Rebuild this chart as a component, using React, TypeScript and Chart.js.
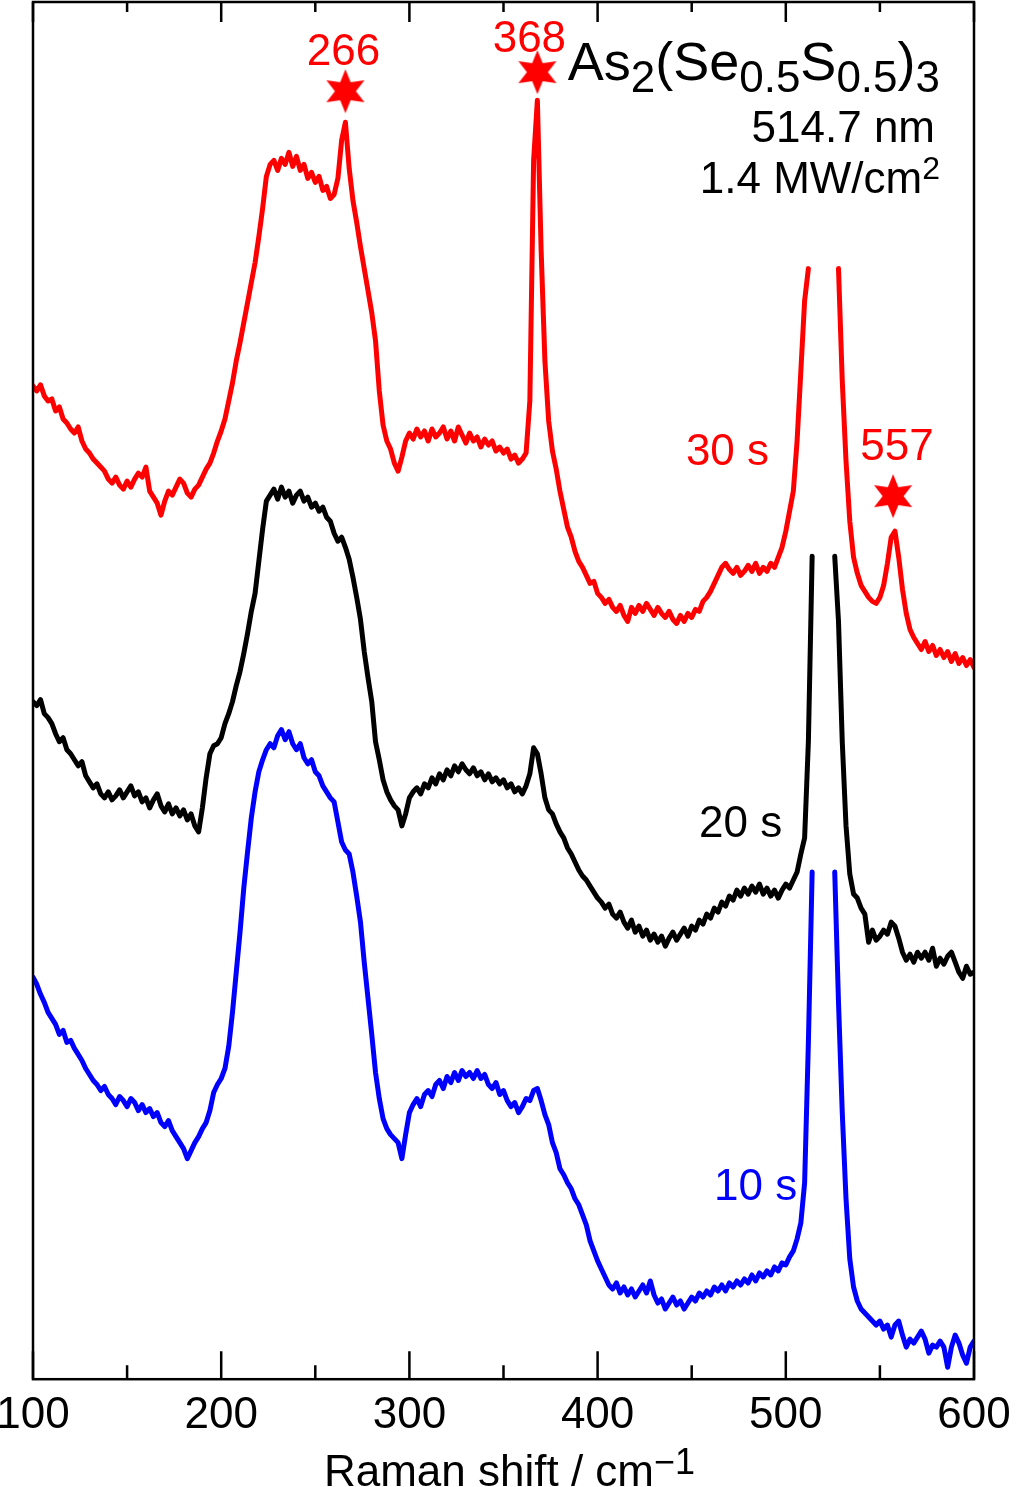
import React, { useEffect, useRef } from "react";
import { Chart, registerables } from "chart.js";

Chart.register(...registerables);

// Raman shift sampling (cm^-1): first point and spacing of the spectra below
const SHIFT_START = 100;
const SHIFT_STEP = 2;

// Intensities (arbitrary units, offset stacked); null = laser-line gap
const intensity30s: (number | null)[] = [
  991, 986, 992, 981, 976, 978, 966, 970, 958, 954,
  948, 944, 950, 936, 928, 924, 918, 914, 910, 906,
  898, 894, 900, 892, 888, 896, 890, 898, 904, 900,
  910, 886, 880, 874, 862, 876, 886, 882, 890, 898,
  894, 884, 880, 888, 892, 900, 908, 914, 924, 936,
  946, 958, 976, 994, 1016, 1034, 1054, 1074, 1094, 1114,
  1140, 1168, 1200, 1212, 1216, 1206, 1218, 1212, 1224, 1210,
  1220, 1206, 1212, 1198, 1204, 1194, 1200, 1186, 1190, 1178,
  1182, 1198, 1236, 1254, 1208, 1176, 1154, 1130, 1108, 1086,
  1064, 1036, 986, 952, 936, 928, 914, 906, 920, 936,
  944, 938, 948, 940, 946, 936, 948, 940, 944, 950,
  938, 946, 936, 950, 942, 934, 944, 936, 940, 930,
  938, 932, 936, 926, 930, 924, 928, 918, 922, 914,
  918, 924, 976, 1216, 1276, 1126, 1016, 956, 926, 908,
  886, 868, 850, 840, 826, 816, 810, 802, 794, 796,
  784, 780, 774, 778, 770, 766, 772, 762, 756, 770,
  764, 772, 766, 774, 768, 762, 770, 764, 760, 766,
  758, 754, 762, 756, 764, 760, 768, 766, 776, 780,
  786, 794, 802, 810, 814, 808, 804, 810, 802, 806,
  812, 806, 814, 804, 810, 806, 814, 810, 820, 830,
  846, 866, 886, 936, 1006, 1076, 1108, null, null, null,
  null, null, null, null, 1108, 996, 916, 856, 820, 804,
  792, 786, 780, 776, 774, 780, 792, 814, 840, 846,
  820, 788, 764, 748, 740, 734, 728, 736, 726, 732,
  722, 728, 720, 726, 716, 724, 714, 720, 712, 718,
  710,
];

const intensity20s: (number | null)[] = [
  676, 672, 678, 664, 660, 654, 644, 636, 640, 628,
  624, 618, 612, 616, 602, 596, 590, 594, 584, 580,
  586, 578, 582, 588, 580, 586, 592, 582, 586, 576,
  580, 570, 578, 584, 572, 566, 574, 564, 570, 562,
  568, 558, 564, 552, 546, 570, 600, 624, 632, 634,
  640, 654, 664, 676, 692, 706, 724, 744, 766, 784,
  816, 848, 876, 882, 888, 878, 890, 880, 886, 874,
  882, 886, 876, 880, 870, 874, 866, 870, 860, 856,
  844, 836, 840, 830, 818, 800, 780, 758, 726, 700,
  676, 636, 618, 598, 586, 578, 572, 568, 552, 564,
  580, 586, 590, 584, 594, 590, 600, 594, 604, 598,
  608, 602, 612, 606, 614, 608, 604, 610, 602, 606,
  598, 604, 596, 600, 594, 598, 590, 594, 586, 590,
  584, 592, 604, 630, 624, 604, 580, 568, 564, 554,
  546, 540, 530, 524, 516, 508, 502, 498, 492, 486,
  480, 476, 470, 474, 464, 460, 466, 456, 450, 458,
  446, 452, 442, 448, 438, 444, 436, 442, 432, 440,
  446, 438, 444, 450, 442, 452, 448, 458, 454, 464,
  460, 470, 466, 476, 472, 482, 478, 488, 482, 490,
  484, 492, 486, 494, 484, 490, 482, 488, 480, 488,
  494, 490, 498, 506, 524, 540, 636, 821, null, null,
  null, null, null, 821, 756, 636, 552, 504, 484, 480,
  470, 464, 436, 448, 438, 442, 448, 444, 456, 452,
  440, 426, 418, 424, 416, 426, 420, 426, 418, 430,
  412, 420, 414, 422, 426, 416, 406, 400, 412, 404,
  406,
];

const intensity10s: (number | null)[] = [
  401, 394, 384, 376, 366, 360, 354, 344, 348, 336,
  338, 330, 324, 318, 310, 304, 298, 294, 288, 292,
  284, 280, 274, 282, 278, 272, 280, 276, 268, 274,
  266, 270, 262, 266, 256, 252, 258, 248, 242, 236,
  230, 220, 228, 236, 242, 250, 256, 268, 286, 294,
  300, 310, 332, 366, 406, 446, 490, 526, 560, 586,
  606, 618, 628, 634, 630, 642, 648, 638, 646, 634,
  628, 634, 620, 614, 618, 606, 602, 592, 586, 580,
  576, 556, 536, 528, 524, 506, 482, 456, 416, 380,
  344, 306, 280, 260, 250, 244, 240, 236, 220, 244,
  266, 274, 280, 272, 284, 288, 282, 294, 298, 290,
  302, 296, 306, 298, 308, 302, 306, 300, 308, 300,
  304, 294, 290, 296, 284, 288, 278, 272, 276, 266,
  272, 280, 278, 288, 290, 278, 264, 254, 236, 226,
  210, 204, 196, 190, 180, 174, 164, 154, 138, 128,
  118, 110, 102, 94, 90, 96, 86, 92, 84, 90,
  82, 88, 94, 86, 98, 84, 76, 80, 70, 76,
  82, 74, 78, 70, 76, 82, 78, 86, 82, 88,
  84, 92, 88, 94, 88, 96, 92, 98, 94, 100,
  96, 104, 98, 106, 102, 108, 104, 112, 108, 116,
  114, 122, 128, 140, 156, 196, 336, 506, null, null,
  null, null, null, 506, 376, 266, 180, 120, 92, 78,
  70, 66, 62, 58, 54, 58, 50, 54, 42, 54,
  58, 44, 32, 40, 36, 42, 48, 40, 26, 34,
  32, 38, 32, 12, 32, 44, 36, 24, 16, 32,
  38,
];

const ramanShift: number[] = intensity30s.map((_, i) => SHIFT_START + SHIFT_STEP * i);

// Series labels and colours
const seriesNames = ["30 s", "20 s", "10 s"];
const seriesColors = ["#ff0000", "#000000", "#0000ff"];

// Marked peaks (stars) of the 30 s spectrum
const peakShift = [266, 368, 557];
const peakStarLevel = [1285, 1304, 881];
const peakLabels = ["266", "368", "557"];

// Axis
const X_MIN = 100;
const X_MAX = 600;
const Y_MIN = 0;
const Y_MAX = 1374;
const tickStep = 50;
const tickLabelEvery = 100;

const FONT = '"Liberation Sans", Arial, Helvetica, sans-serif';

function makeStar(color: string): HTMLCanvasElement {
  const c = document.createElement("canvas");
  const s = 48;
  c.width = s;
  c.height = s;
  const g = c.getContext("2d")!;
  const cx = s / 2;
  const cy = s / 2;
  const ro = 22;
  const ri = 10.5;
  g.beginPath();
  for (let i = 0; i < 12; i++) {
    const r = i % 2 === 0 ? ro : ri;
    const a = -Math.PI / 2 + (i * Math.PI) / 6;
    const px = cx + r * Math.cos(a);
    const py = cy + r * Math.sin(a);
    if (i === 0) g.moveTo(px, py);
    else g.lineTo(px, py);
  }
  g.closePath();
  g.fillStyle = color;
  g.fill();
  return c;
}

type Part = [string, number, number]; // text, font size, baseline shift

function drawParts(ctx: CanvasRenderingContext2D, parts: Part[], x: number, baseline: number, align: "left" | "right" | "center", color: string) {
  ctx.fillStyle = color;
  ctx.textBaseline = "alphabetic";
  ctx.textAlign = "left";
  let total = 0;
  const widths = parts.map(([t, size]) => {
    ctx.font = `${size}px ${FONT}`;
    const w = ctx.measureText(t).width;
    total += w;
    return w;
  });
  let cx = align === "left" ? x : align === "right" ? x - total : x - total / 2;
  parts.forEach(([t, size, dy], i) => {
    ctx.font = `${size}px ${FONT}`;
    ctx.fillText(t, cx, baseline + dy);
    cx += widths[i];
  });
}

const decorPlugin = {
  id: "decor",
  afterDraw(chart: any) {
    const { ctx, chartArea: ca, scales } = chart;
    const xs = scales.x;
    const ys = scales.y;
    ctx.save();
    // frame
    ctx.strokeStyle = "#000";
    ctx.lineWidth = 2.5;
    ctx.strokeRect(ca.left, ca.top, ca.right - ca.left, ca.bottom - ca.top);
    // inward ticks, top and bottom
    xs.ticks.forEach((t: any) => {
      const px = xs.getPixelForValue(t.value);
      const major = t.value % tickLabelEvery === 0;
      const lb = major ? 28 : 14;
      const lt = major ? 20 : 10;
      ctx.beginPath();
      ctx.moveTo(px, ca.bottom);
      ctx.lineTo(px, ca.bottom - lb);
      ctx.moveTo(px, ca.top);
      ctx.lineTo(px, ca.top + lt);
      ctx.stroke();
    });

    // axis title with superscript
    drawParts(
      ctx,
      [
        ["Raman shift / cm", 44, 0],
        ["\u22121", 36, -12],
      ],
      (ca.left + ca.right) / 2 + 6,
      ca.bottom + 107,
      "center",
      "#000"
    );

    // peak labels above stars
    const labelOffsets = [
      [-2, -26],
      [-8, -20],
      [4, -36],
    ];
    ctx.font = `44px ${FONT}`;
    ctx.fillStyle = "#ff0000";
    ctx.textAlign = "center";
    ctx.textBaseline = "alphabetic";
    peakShift.forEach((v, i) => {
      const px = xs.getPixelForValue(v) + labelOffsets[i][0];
      const py = ys.getPixelForValue(peakStarLevel[i]) + labelOffsets[i][1];
      ctx.fillText(peakLabels[i], px, py);
    });

    // series labels
    const seriesLabelAnchor = [
      [469, 924],
      [476, 553],
      [484, 191],
    ];
    ctx.font = `44px ${FONT}`;
    ctx.textAlign = "center";
    ctx.textBaseline = "middle";
    seriesNames.forEach((n, i) => {
      ctx.fillStyle = seriesColors[i];
      ctx.fillText(n, xs.getPixelForValue(seriesLabelAnchor[i][0]), ys.getPixelForValue(seriesLabelAnchor[i][1]));
    });

    // sample / conditions block
    const right = ca.right - 34;
    drawParts(
      ctx,
      [
        ["As", 54, 0],
        ["2", 44, 12],
        ["(Se", 54, 0],
        ["0.5", 44, 12],
        ["S", 54, 0],
        ["0.5", 44, 12],
        [")", 54, 0],
        ["3", 44, 12],
      ],
      right,
      ca.top + 78,
      "right",
      "#000"
    );
    drawParts(ctx, [["514.7 nm", 44, 0]], right - 5, ca.top + 140, "right", "#000");
    drawParts(
      ctx,
      [
        ["1.4 MW/cm", 44, 0],
        ["2", 32, -14],
      ],
      right,
      ca.top + 191,
      "right",
      "#000"
    );
    ctx.restore();
  },
};

export default function App() {
  const ref = useRef<HTMLCanvasElement | null>(null);

  useEffect(() => {
    if (!ref.current) return;
    const star = makeStar("#ff0000");
    const series = [intensity30s, intensity20s, intensity10s];
    const chart = new Chart(ref.current, {
      type: "line",
      data: {
        datasets: [
          {
            label: "peaks",
            type: "scatter",
            data: peakShift.map((v, i) => ({ x: v, y: peakStarLevel[i] })),
            pointStyle: star as any,
            pointRadius: 22,
            showLine: false,
            order: 0,
          } as any,
          ...series.map((s, k) => ({
            label: seriesNames[k],
            data: ramanShift.map((x, i) => ({ x, y: s[i] })),
            borderColor: seriesColors[k],
            backgroundColor: seriesColors[k],
            borderWidth: 5,
            pointRadius: 0,
            tension: 0,
            spanGaps: false,
            borderJoinStyle: "round" as const,
            borderCapStyle: "round" as const,
            order: 1,
          })),
        ],
      },
      options: {
        animation: false,
        responsive: false,
        devicePixelRatio: 1,
        events: [],
        layout: { autoPadding: false, padding: { top: 2, left: 33, right: 42, bottom: 35 } },
        plugins: {
          legend: { display: false },
          tooltip: { enabled: false },
        },
        scales: {
          x: {
            type: "linear",
            min: X_MIN,
            max: X_MAX,
            position: "bottom",
            grid: { display: false, drawTicks: false },
            border: { display: false },
            afterFit: (scale: any) => {
              scale.paddingLeft = 0;
              scale.paddingRight = 0;
              scale.paddingTop = 0;
              scale.paddingBottom = 0;
            },
            ticks: {
              stepSize: tickStep,
              autoSkip: false,
              maxRotation: 0,
              padding: 10,
              color: "#000",
              font: { family: FONT, size: 44 },
              callback: (v: any) => (Number(v) % tickLabelEvery === 0 ? String(v) : ""),
            },
          },
          y: {
            display: false,
            min: Y_MIN,
            max: Y_MAX,
          },
        },
      },
      plugins: [decorPlugin],
    });
    return () => chart.destroy();
  }, []);

  return (
    <div style={{ position: "absolute", left: 0, top: 0, width: 1016, height: 1487, background: "#fff" }}>
      <canvas ref={ref} width={1016} height={1487} style={{ display: "block" }} />
    </div>
  );
}
